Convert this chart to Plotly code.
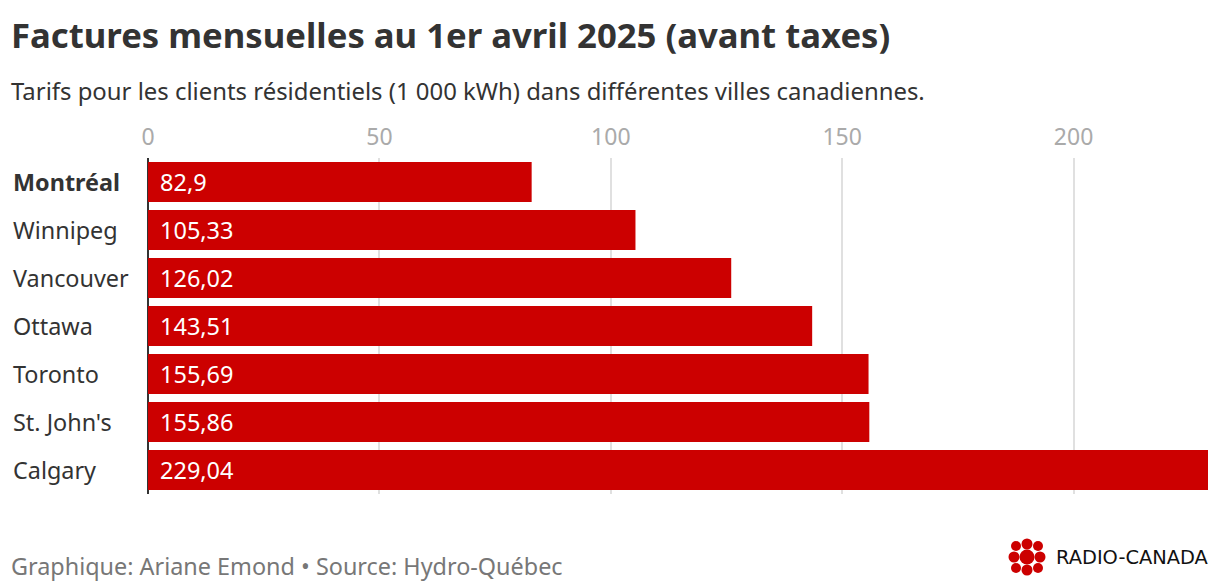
import plotly.graph_objects as go

cities = ["Montréal", "Winnipeg", "Vancouver", "Ottawa", "Toronto", "St. John's", "Calgary"]
values = [82.9, 105.33, 126.02, 143.51, 155.69, 155.86, 229.04]
value_labels = ["82,9", "105,33", "126,02", "143,51", "155,69", "155,86", "229,04"]
tick_vals = [0, 50, 100, 150, 200]
tick_text = ["0", "50", "100", "150", "200"]

W, H = 1220, 588
L, R, T, B = 148, 12, 158, 94
PW, PH = W - L - R, H - T - B

def px(x):
    return (x - L) / PW

def py(y):
    return (H - B - y) / PH

FONT = "Noto Sans"
RED = "#cc0000"

fig = go.Figure()
fig.add_trace(go.Bar(
    x=values, y=cities, orientation="h",
    marker=dict(color=RED, line=dict(width=0)),
    hoverinfo="skip",
))

annotations = []
for c, v, t in zip(cities, values, value_labels):
    label = f"<b>{c}</b>" if c == "Montréal" else c
    annotations.append(dict(x=px(11), xref="paper", y=c, yref="y", text=label,
                            xanchor="left", yanchor="middle", showarrow=False,
                            font=dict(family=FONT, size=23.4, color="#333333")))
    annotations.append(dict(x=0, xref="x", y=c, yref="y", text=t, xshift=10,
                            xanchor="left", yanchor="middle", showarrow=False,
                            font=dict(family=FONT, size=23.5, color="#ffffff")))

annotations += [
    dict(x=px(9), y=py(35), xref="paper", yref="paper", xanchor="left", yanchor="middle",
         text="<b>Factures mensuelles au 1er avril 2025 (avant taxes)</b>", showarrow=False,
         font=dict(family=FONT, size=34.7, color="#333333")),
    dict(x=px(9), y=py(90), xref="paper", yref="paper", xanchor="left", yanchor="middle",
         text="Tarifs pour les clients résidentiels (1 000 kWh) dans différentes villes canadiennes.",
         showarrow=False, font=dict(family=FONT, size=23.9, color="#333333")),
    dict(x=px(9), y=py(566), xref="paper", yref="paper", xanchor="left", yanchor="middle",
         text="Graphique: Ariane Emond • Source: Hydro-Québec", showarrow=False,
         font=dict(family=FONT, size=23.4, color="#777777")),
    dict(x=px(1054), y=py(557), xref="paper", yref="paper", xanchor="left", yanchor="middle",
         text="RADIO-CANADA", showarrow=False,
         font=dict(family="DejaVu Sans", size=19.4, color="#111111")),
]

# simplified CBC gem logo
shapes = []
cx, cy = 1027, 557
def circ(x, y, r):
    return dict(type="circle", xref="paper", yref="paper",
                xsizemode="pixel", ysizemode="pixel",
                xanchor=px(x), yanchor=py(y),
                x0=-r, x1=r, y0=-r, y1=r,
                fillcolor=RED, line=dict(width=0), layer="above")
shapes.append(circ(cx, cy, 7.5))
for dx, dy in [(0, -13), (0, 13), (-13, 0), (13, 0)]:
    shapes.append(circ(cx + dx, cy + dy, 5.5))
for dx, dy in [(-11, -11), (11, -11), (-11, 11), (11, 11)]:
    shapes.append(circ(cx + dx, cy + dy, 5))

fig.update_layout(
    width=W, height=H,
    margin=dict(l=L, r=R, t=T, b=B),
    paper_bgcolor="white", plot_bgcolor="white",
    bargap=8 / 48,
    showlegend=False,
    annotations=annotations,
    shapes=shapes,
    xaxis=dict(side="top", range=[0, 229.04], tickvals=tick_vals, ticktext=tick_text,
               showgrid=True, gridcolor="#e0e0e0", gridwidth=2,
               zeroline=True, zerolinecolor="#333333", zerolinewidth=2,
               showline=False, ticks="", ticklabelstandoff=7,
               tickfont=dict(family=FONT, size=23, color="#aaaaaa"), fixedrange=True),
    yaxis=dict(categoryorder="array", categoryarray=cities[::-1],
               showticklabels=False, showgrid=False, zeroline=False, showline=False,
               fixedrange=True),
    font=dict(family=FONT),
)

fig.write_html("out.html")
